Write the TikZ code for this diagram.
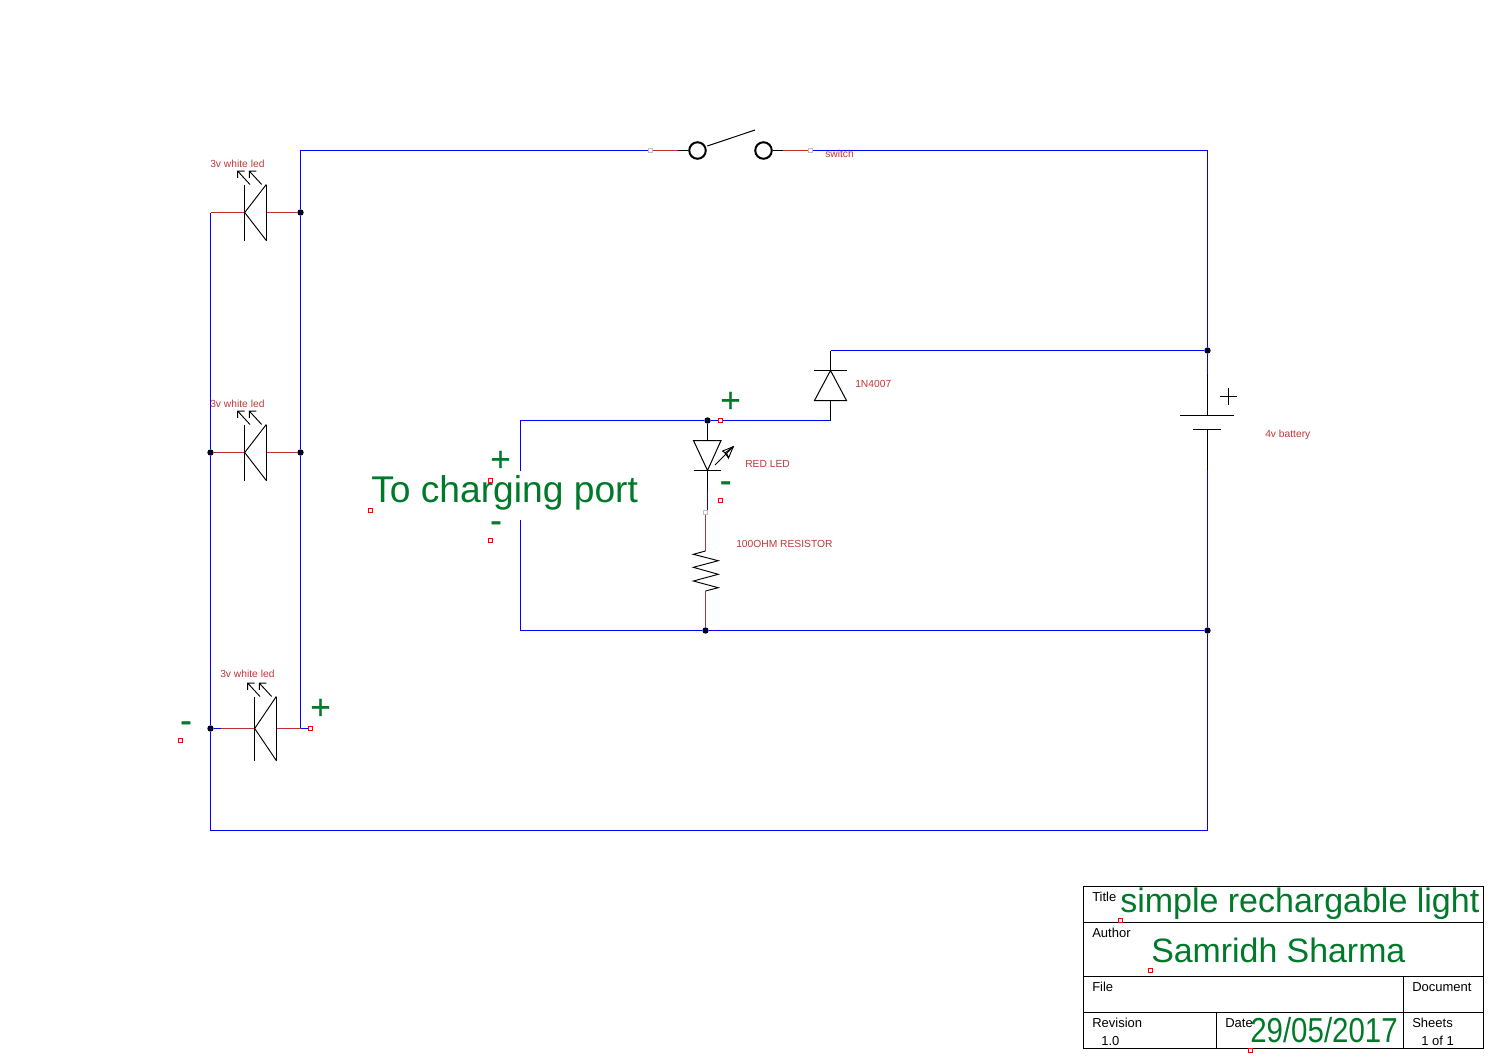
\documentclass[tikz,border=0pt]{standalone}
\usepackage{fontspec}
\usepackage{graphicx}
\setmainfont{Liberation Sans}
\newfontfamily\signfont[FakeBold=0.8]{Liberation Sans}
\definecolor{wireblue}{RGB}{0,0,255}
\definecolor{leadred}{RGB}{192,48,48}
\definecolor{resred}{RGB}{170,60,60}
\definecolor{labred}{RGB}{192,56,56}
\definecolor{biggreen}{RGB}{0,122,42}
\tikzset{
  wire/.style={draw=wireblue,line width=.75pt},
  lead/.style={draw=leadred,line width=.75pt},
  reslead/.style={draw=resred,line width=.75pt},
  sym/.style={draw=black,line width=.75pt,line join=miter},
  thin sym/.style={draw=black,line width=.7pt},
  junction/.style={circle,fill=black!85!blue,inner sep=0pt,minimum size=4.8pt},
  smalllab/.style={anchor=base west,inner sep=0pt,text=labred,font=\fontsize{7.7pt}{9pt}\selectfont},
  blocklab/.style={anchor=base west,inner sep=0pt,text=black,font=\fontsize{9.75pt}{11pt}\selectfont},
  biglab/.style={anchor=base west,inner sep=0pt,text=biggreen},
  signlab/.style={anchor=base,inner sep=0pt,text=biggreen,font=\signfont\fontsize{26pt}{28pt}\selectfont},
  marker/.style={draw=red,line width=.6pt,fill=white,minimum size=3pt,inner sep=0pt},
  greymark/.style={draw=black!25,line width=.6pt,fill=white,minimum size=3pt,inner sep=0pt}
}
\newcommand{\whiteled}[3]{%
  % #1 = left bar x, #2 = centre y, #3 = half height
  \begin{scope}[shift={(#1,#2)}]
    \draw[sym] (0,-#3) -- (0,#3);
    \draw[sym] (21.6,-#3) -- (21.6,#3);
    \draw[thin sym] (21.6,-#3) -- (0,0) -- (21.6,#3);
    \draw[thin sym] (5.3,-#3) -- ++(-12.3,-13.4) ++(0,6.8) -- ++(0,-6.8) -- ++(7,0);
    \draw[thin sym] (17,-#3) -- ++(-12.4,-13.4) ++(0,6.8) -- ++(0,-6.8) -- ++(7,0);
  \end{scope}}
\begin{document}
\begin{tikzpicture}[x=.75pt,y=-.75pt]
\useasboundingbox[fill=white] (0,0) rectangle (1495,1060);

% named points
\coordinate (topL) at (300.5,150.5);
\coordinate (topR) at (1207.5,150.5);
\coordinate (swL) at (650,150.5);
\coordinate (swLb) at (678,150.5);
\coordinate (swR) at (810,150.5);
\coordinate (swRb) at (783,150.5);
\coordinate (botL) at (210.5,830.5);
\coordinate (botR) at (1207.5,830.5);
\coordinate (ledTopL) at (210.5,212.5);
\coordinate (ledA) at (244.7,212.5);
\coordinate (ledB) at (266.3,212.5);
\coordinate (led2A) at (244.7,452.5);
\coordinate (led2B) at (266.3,452.5);
\coordinate (led3A) at (254.7,728.5);
\coordinate (led3B) at (276.3,728.5);
\coordinate (led3m) at (220.5,728.5);
\coordinate (led3p) at (310.5,728.5);
\coordinate (led3q) at (300.5,728.5);
\coordinate (batTop) at (1207.5,374);
\coordinate (batPlus) at (1207.5,415.5);
\coordinate (batMinus) at (1207.5,429.5);
\coordinate (batBot) at (1207.5,470);
\coordinate (dUp) at (830.5,350.5);
\coordinate (dBar) at (830.5,370.5);
\coordinate (dBase) at (830.5,400.5);
\coordinate (dLow) at (830.5,420.5);
\coordinate (portTop) at (520.5,420.5);
\coordinate (portBot) at (520.5,630.5);
\coordinate (rlBase) at (707.5,440.5);
\coordinate (rlBar) at (707.5,470.5);
\coordinate (rlEnd) at (707.5,490);
\coordinate (resJog) at (707.5,512.5);
\coordinate (resTop) at (705.5,512.5);
\coordinate (resA) at (705.5,551);
\coordinate (resB) at (705.5,591);

% junctions
\node[junction] (j1) at (300.5,212.5) {};
\node[junction] (j2) at (210.5,452.5) {};
\node[junction] (j3) at (300.5,452.5) {};
\node[junction] (j4) at (210.5,728.5) {};
\node[junction] (j5) at (707.5,420.5) {};
\node[junction] (j6) at (705.5,630.5) {};
\node[junction] (j7) at (1207.5,350.5) {};
\node[junction] (j8) at (1207.5,630.5) {};

% blue wires
\draw[wire] (swL) -- (topL) -- (j1) -- (j3) -- (led3q) -- (led3p);
\draw[wire] (swR) -- (topR) -- (j7) -- (batTop);
\draw[wire] (batBot) -- (j8) -- (botR) -- (botL) -- (j4) -- (j2) -- (ledTopL);
\draw[wire] (j4) -- (led3m);
\draw[wire] (dUp) -- (j7);
\draw[wire] (dLow) -- (j5) -- (portTop) -- (portBot) -- (j6) -- (j8);
\draw[wire] (rlEnd) -- (resJog) -- (resTop);

% red leads
\draw[lead] (swL) -- (swLb);
\draw[lead] (swRb) -- (swR);
\draw[lead] (ledTopL) -- (ledA);
\draw[lead] (ledB) -- (j1);
\draw[lead] (j2) -- (led2A);
\draw[lead] (led2B) -- (j3);
\draw[lead] (led3m) -- (led3A);
\draw[lead] (led3B) -- (led3q);
\draw[reslead] (resTop) -- (resA);
\draw[reslead] (resB) -- (j6);

% white LEDs
\whiteled{244.7}{212.5}{28}
\whiteled{244.7}{452.5}{28}
\whiteled{254.7}{728.5}{32}

% switch
\node[circle,draw=black,line width=1.5pt,fill=white,minimum size=12.4pt,inner sep=0pt] (swa) at (697.5,150.5) {};
\node[circle,draw=black,line width=1.5pt,fill=white,minimum size=12.4pt,inner sep=0pt] (swb) at (763.5,150.5) {};
\draw[sym] (swLb) -- (swa);
\draw[sym] (swb) -- (swRb);
\draw[sym] (707.3,146) -- (755,130);

% diode
\draw[sym] (dUp) -- (dBar);
\draw[sym] (814,370.5) -- (847,370.5);
\draw[sym] (814.5,400.5) -- (846.5,400.5) -- (dBar) -- cycle;
\draw[sym] (dBase) -- (dLow);

% red LED
\draw[sym] (j5) -- (rlBase);
\draw[sym] (693.5,440.5) -- (721,440.5) -- (rlBar) -- cycle;
\draw[sym] (693.5,470.5) -- (721,470.5);
\draw[sym] (rlBar) -- (rlEnd);
\draw[thin sym] (715,465) -- (733.3,446.7);
\draw[thin sym] (733.3,446.7) -- (722.5,451) -- (727,454) -- (728.5,458) -- cycle;
\draw[thin sym] (733.3,446.7) -- (725,453) -- (728.5,458);

% resistor
\draw[thin sym] (resA) -- (693.3,554.3) -- (718.3,560.7) -- (693.3,567.3) -- (718.3,574.3) -- (693.3,581) -- (718.3,587.7) -- (resB);

% battery
\draw[sym] (batTop) -- (batPlus);
\draw[sym] (1180,415.5) -- (1234,415.5);
\draw[sym] (1193,429.5) -- (1221,429.5);
\draw[sym] (batMinus) -- (batBot);
\draw[sym] (1220,396.5) -- (1237,396.5);
\draw[sym] (1228.5,388) -- (1228.5,405);

% grey connection marks
\node[greymark] (g1) at (650.5,150.5) {};
\node[greymark] (g2) at (810.5,150.5) {};
\node[greymark] (g3) at (705.5,512.5) {};

% labels (small, red)
\node[smalllab] (l1) at (210,167) {3v white led};
\node[smalllab] (l2) at (210,407) {3v white led};
\node[smalllab] (l3) at (220,677) {3v white led};
\node[smalllab] (l4) at (825,157) {switch};
\node[smalllab] (l5) at (855,387.5) {1N4007};
\node[smalllab] (l6) at (745,467) {RED LED};
\node[smalllab] (l7) at (736,547) {100OHM RESISTOR};
\node[smalllab] (l8) at (1265,437) {4v battery};

% charging port text hides the wire
\fill[white] (371,471) rectangle (640,520);
\node[biglab,font=\fontsize{27.9pt}{30pt}\selectfont] (port) at (371,502) {To charging port};

% green signs
\node[signlab] (s1) at (730.5,412) {+};
\node[signlab] (s2) at (725.7,492) {-};
\node[signlab] (s3) at (500.5,471) {+};
\node[signlab] (s4) at (496,532) {-};
\node[signlab] (s5) at (320.5,719) {+};
\node[signlab] (s6) at (186,732) {-};

% title block
\draw[sym] (1083.5,886.5) rectangle (1483.5,1048.5);
\draw[sym] (1083.5,922.5) -- (1483.5,922.5);
\draw[sym] (1083.5,976.5) -- (1483.5,976.5);
\draw[sym] (1083.5,1012.5) -- (1483.5,1012.5);
\draw[sym] (1403.5,976.5) -- (1403.5,1048.5);
\draw[sym] (1216.5,1012.5) -- (1216.5,1048.5);
\node[blocklab] (b1) at (1092,901) {Title};
\node[blocklab] (b2) at (1092,937) {Author};
\node[blocklab] (b3) at (1092,991) {File};
\node[blocklab] (b4) at (1412,991) {Document};
\node[blocklab] (b5) at (1092,1027) {Revision};
\node[blocklab] (b6) at (1101,1045) {1.0};
\node[blocklab] (b7) at (1225,1027) {Date};
\node[blocklab] (b8) at (1412,1027) {Sheets};
\node[blocklab] (b9) at (1421,1045) {1 of 1};
\node[biglab,font=\fontsize{25.5pt}{28pt}\selectfont] (t1) at (1120,912) {simple rechargable light};
\node[biglab,font=\fontsize{25.4pt}{28pt}\selectfont] (t2) at (1151,962) {Samridh Sharma};
\node[biglab,font=\fontsize{26pt}{28pt}\selectfont] (t3) at (1250,1042) {\scalebox{.85}[1]{29/05/2017}};

% red text anchors
\foreach \n/\p in {m1/{370,510},m2/{490,480},m3/{490,540},m4/{720,420},m5/{720,500},m6/{180,740},m7/{310,728},m8/{1120,920},m9/{1150,970},m10/{1250,1050}}
  \node[marker] (\n) at (\p) {};
\end{tikzpicture}
\end{document}
